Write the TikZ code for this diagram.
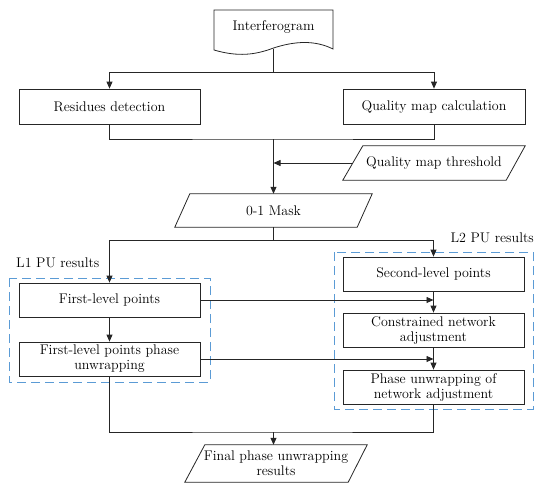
\documentclass[tikz,border=0pt]{standalone}
\usetikzlibrary{arrows.meta,calc}
\definecolor{dashblue}{HTML}{5B9BD5}
\begin{document}
\begin{tikzpicture}[x=1pt,y=-1pt,
  every node/.style={font=\fontsize{14}{16}\selectfont},
  line/.style={draw=black!85, line width=0.8pt},
  arr/.style={line, -{Triangle[length=7pt,width=6pt]}},
  procbox/.style={line, rectangle, minimum width=181pt, minimum height=34pt, inner sep=1pt, align=center},
  parabox/.style={rectangle, inner sep=1pt, align=center},
  group/.style={draw=dashblue, line width=0.9pt, dash pattern=on 9pt off 5pt}
]
\useasboundingbox (0,0) rectangle (550,490);

% Interferogram (document shape)
\draw[line] (214,10) -- (333,10) -- (333,49)
  .. controls (315,40) and (295,41) .. (273.5,48)
  .. controls (255,55) and (238,57) .. (214,50) -- cycle;
\node (interf) at (273.5,27) {Interferogram};
\coordinate (ib) at (273.5,48.5);

% rectangles
\node[procbox, minimum width=181pt, minimum height=35pt] (resid) at (109.5,106.5) {Residues detection};
\node[procbox, minimum width=182pt, minimum height=35pt] (qmc) at (434,106.5) {Quality map calculation};
\node[procbox] (flp) at (109.5,300) {First-level points};
\node[procbox] (flppu) at (109.5,359) {First-level points phase\\[-1pt]unwrapping};
\node[procbox] (slp) at (433.5,274) {Second-level points};
\node[procbox] (cna) at (433.5,330) {Constrained network\\[-1pt]adjustment};
\node[procbox] (puna) at (433.5,387) {Phase unwrapping of\\[-1pt]network adjustment};

% parallelograms
\node[parabox, minimum width=182pt, minimum height=34pt] (thr) at (434,163) {Quality map threshold};
\draw[line] ($(thr.north west)+(20,0)$) -- (thr.north east) -- ($(thr.south east)-(19,0)$) -- (thr.south west) -- cycle;
\node[parabox, minimum width=197pt, minimum height=33pt] (mask) at (273.5,210.5) {0-1 Mask};
\draw[line] ($(mask.north west)+(15,0)$) -- (mask.north east) -- ($(mask.south east)-(15,0)$) -- (mask.south west) -- cycle;
\node[parabox, minimum width=182pt, minimum height=37pt] (final) at (276,463.5) {Final phase unwrapping\\[-1pt]results};
\draw[line] ($(final.north west)+(20,0)$) -- (final.north east) -- ($(final.south east)-(19,0)$) -- (final.south west) -- cycle;

% group boxes
\draw[group] (9,278) rectangle (210,382);
\draw[group] (334,252) rectangle (533,409);
\node[anchor=west, inner sep=0pt] (l1) at (16,263) {L1 PU results};
\node[anchor=east, inner sep=0pt] (l2) at (534,238) {L2 PU results};

% connectors
\coordinate (j1) at (273.5,72);
\coordinate (j2) at (273.5,139);
\coordinate (j3) at (273.5,240);
\coordinate (j4) at (273.5,432);
\draw[line] (ib) -- (j1);
\draw[arr] (j1) -| (resid.north);
\draw[arr] (j1) -| (qmc.north);
\draw[line] (resid.south) |- (j2) -| (qmc.south);
\draw[arr] (j2) -- (mask.north -| j2);
\draw[arr] ($(thr.west)+(10,0)$) -- (thr.west -| j2);
\draw[line] (mask.south -| j3) -- (j3);
\draw[arr] (j3) -| (flp.north);
\draw[arr] (j3) -| (slp.north);
\draw[arr] (flp.south) -- (flppu.north);
\draw[arr] (flp.east) -- (flp.east -| slp.south);
\draw[arr] (slp.south) -- (cna.north);
\draw[arr] (flppu.east) -- (flppu.east -| cna.south);
\draw[arr] (cna.south) -- (puna.north);
\draw[line] (flppu.south) |- (j4) -| (puna.south);
\draw[arr] (j4) -- (final.north -| j4);
\end{tikzpicture}
\end{document}
